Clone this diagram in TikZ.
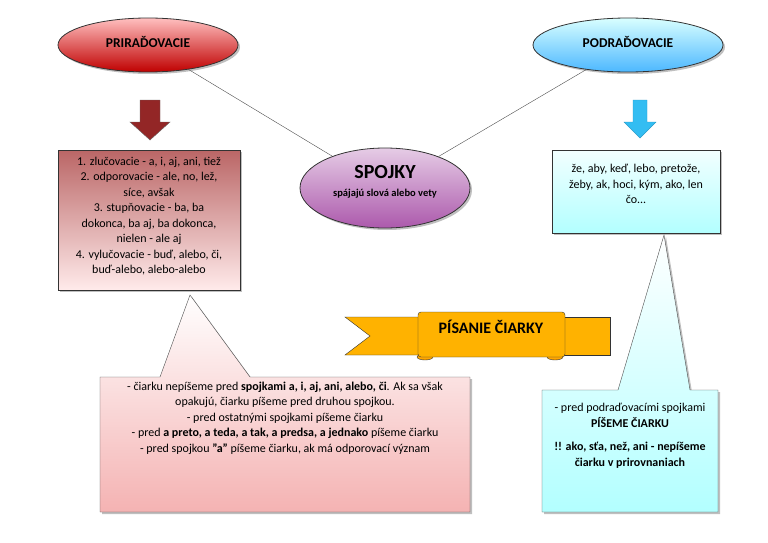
\documentclass[tikz,border=0pt]{standalone}
\usepackage{fontspec}
\setmainfont{Carlito}
\usetikzlibrary{shapes.geometric,shadows,arrows.meta}
\begin{document}
\begin{tikzpicture}[x=1pt,y=-1pt,
  ell/.style={ellipse,draw=black!80,thick,inner sep=0pt},
  txt/.style={font=\fontsize{12}{15.5}\selectfont,align=center},
  shd/.style={drop shadow={shadow xshift=2pt,shadow yshift=-2pt,opacity=0.5}},
  conn/.style={draw=black!70,thin}]
\useasboundingbox (0,0) rectangle (768,543);
\node[ell,minimum width=180,minimum height=54,top color=red!25,bottom color=red!75!black,shd] (prir) at (148,45) {};
\node[font=\bfseries\fontsize{13.5}{16}\selectfont] at (148,42) {PRIRAĎOVACIE};
\node[ell,minimum width=190,minimum height=54,top color=cyan!15,bottom color=cyan!60!blue!70,shd] (podr) at (628,45) {};
\node[font=\bfseries\fontsize{13.5}{16}\selectfont] at (628,42) {PODRAĎOVACIE};
\node[ell,minimum width=170,minimum height=80,top color=violet!20,bottom color=violet!65,shd] (spoj) at (385,188) {};
\draw[conn] (prir) -- (spoj);
\draw[conn] (podr) -- (spoj);
\node[font=\bfseries\fontsize{20}{22}\selectfont] at (385,172) {SPOJKY};
\node[font=\bfseries\fontsize{10.5}{12}\selectfont] at (385,194) {spájajú slová\ alebo vety};
% arrows
\draw[black!60,fill=red!50!black!85] (140,100) -- (160,100) -- (160,122) -- (170,122) -- (150,140) -- (130,122) -- (140,122) -- cycle;
\draw[cyan!80!black,fill=cyan!80] (633,100) -- (647,100) -- (647,122) -- (656,122) -- (640,138) -- (624,122) -- (633,122) -- cycle;
% left box
\draw[black!80,shading angle=225,top color=red!55!black!60,bottom color=red!8,shd] (58,150) rectangle (240,290);
\node[txt] (lt) at (149,216) {1. zlučovacie - a, i, aj, ani, tiež\\2. odporovacie - ale, no, lež,\\síce, avšak\\3. stupňovacie - ba, ba\\dokonca, ba aj, ba dokonca,\\nielen - ale aj\\4. vylučovacie - buď, alebo, či,\\buď-alebo, alebo-alebo};
% lower callout
\draw[black!70,top color=white,bottom color=red!30!black!20!red!30,shd] (100,377) -- (160,377) -- (190,295) -- (250,377) -- (470,377) -- (470,512) -- (100,512) -- cycle;
\node[txt] (bt) at (285,418) {- čiarku nepíšeme pred \textbf{spojkami a, i, aj, ani, alebo, či}. Ak sa však\\opakujú, čiarku píšeme pred druhou spojkou.\\- pred ostatnými spojkami píšeme čiarku\\- pred \textbf{a preto, a teda, a tak, a predsa, a jednako} píšeme čiarku\\- pred spojkou \textbf{\symbol{34}a\symbol{34}} píšeme čiarku, ak má odporovací význam};
% right box
\draw[black!80,top color=cyan!5,bottom color=cyan!30,shd] (552,150) rectangle (720,233);
\node[txt] (rt) at (636,184) {že, aby, keď, lebo, pretože,\\žeby, ak, hoci, kým, ako, len\\čo...};
% right callout
\draw[black!70,top color=white,bottom color=cyan!30,shd] (542,390) -- (618,390) -- (664,235) -- (690,390) -- (718,390) -- (718,512) -- (542,512) -- cycle;
\node[txt] (rc) at (630,436) {- pred podraďovacími spojkami\\\textbf{PÍŠEME ČIARKU}\\[8pt]\textbf{!! ako, sťa, než, ani - nepíšeme}\\\textbf{čiarku v prirovnaniach}};
% banner
\draw[black!80,fill=orange!60!yellow] (345,317) -- (420,317) -- (420,355) -- (345,355) -- (370,336) -- cycle;
\draw[black!80,fill=orange!60!yellow] (560,317) -- (610,317) -- (610,355) -- (560,355) -- cycle;
\draw[black!80,fill=orange!70!yellow] (425,357) ellipse (8 and 3);
\draw[black!80,fill=orange!70!yellow] (555,357) ellipse (8 and 3);
\draw[black!80,fill=orange!60!yellow,rounded corners=3] (418,312) rectangle (565,357);
\node[font=\bfseries\fontsize{16}{18}\selectfont] (ban) at (491,327) {PÍSANIE ČIARKY};
\end{tikzpicture}
\end{document}
